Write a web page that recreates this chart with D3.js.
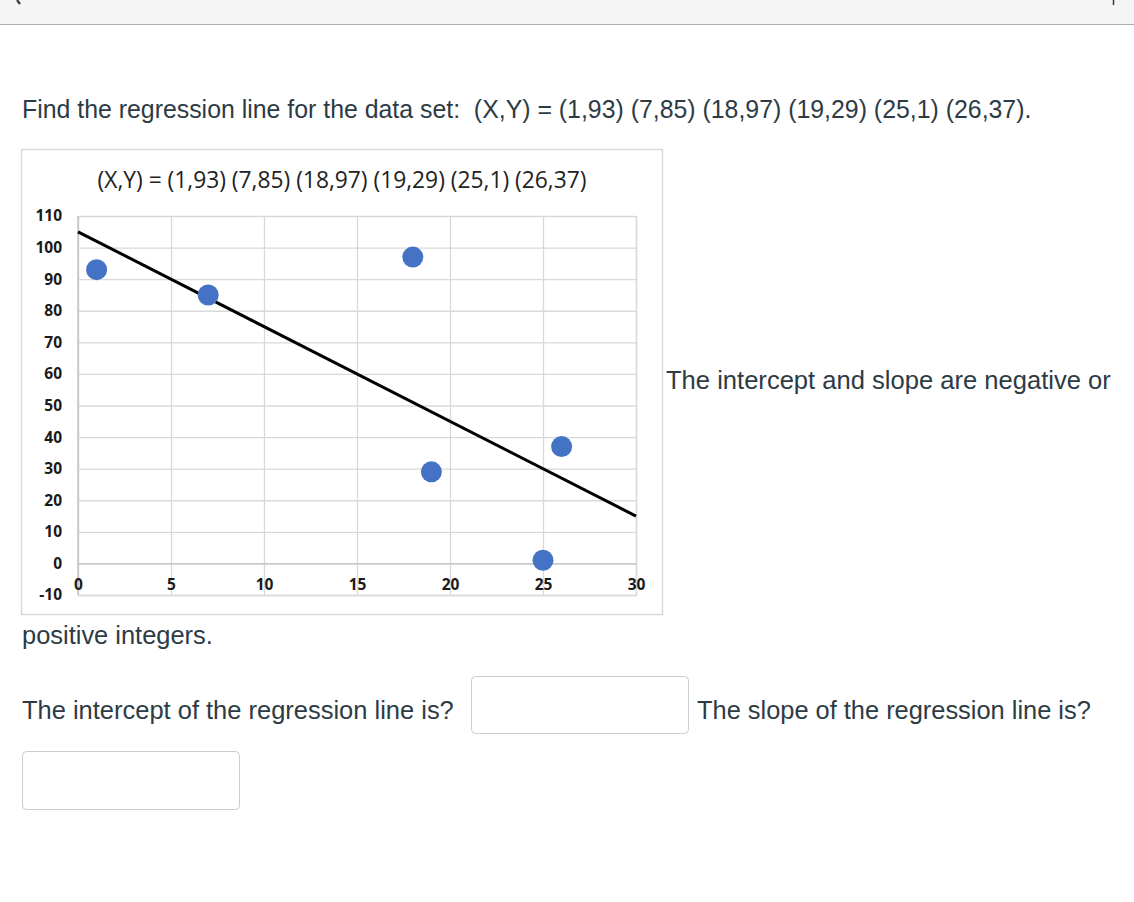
<!DOCTYPE html>
<html><head><meta charset="utf-8">
<script src="https://cdn.jsdelivr.net/npm/d3@7/dist/d3.min.js"></script>
<style>
html,body{margin:0;padding:0;background:#fff;}
svg{display:block;}
text{white-space:pre;}
</style></head>
<body>
<svg id="page" width="1134" height="902"></svg>
<script>
// ---- data ----
const xValues = [1, 7, 18, 19, 25, 26];
const yValues = [93, 85, 97, 29, 1, 37];
const trendX = [0, 30];
const trendY = [105, 15];
const xTicks = [0, 5, 10, 15, 20, 25, 30];
const yTicks = [-10, 0, 10, 20, 30, 40, 50, 60, 70, 80, 90, 100, 110];
const chartTitle = "(X,Y) = (1,93) (7,85) (18,97) (19,29) (25,1) (26,37)";
const pageLines = {
  q: "Find the regression line for the data set:  (X,Y) = (1,93) (7,85) (18,97) (19,29) (25,1) (26,37).",
  side: "The intercept and slope are negative or",
  wrap: "positive integers.",
  a1: "The intercept of the regression line is?",
  a2: "The slope of the regression line is?"
};

const svg = d3.select("#page");
const textColor = "#2d3b45";
const pageFont = "'Liberation Sans', Arial, Helvetica, sans-serif";

function fitText(sel, targetWidth) {
  const fs = parseFloat(sel.attr("font-size"));
  const w = sel.node().getComputedTextLength();
  sel.attr("font-size", (fs * targetWidth / w).toFixed(2));
}

// top bar
svg.append("rect").attr("x",0).attr("y",0).attr("width",1134).attr("height",24).attr("fill","#f5f5f5");
svg.append("line").attr("x1",0).attr("x2",1134).attr("y1",24.5).attr("y2",24.5).attr("stroke","#adadad").attr("stroke-width",1);
svg.append("path").attr("d","M17,0 L20,4").attr("stroke","#2d3b45").attr("stroke-width",2.2).attr("fill","none");
svg.append("line").attr("x1",1113.5).attr("x2",1113.5).attr("y1",0).attr("y2",5).attr("stroke","#2d3b45").attr("stroke-width",1.5);

// page text
function pageText(str, x, y, w) {
  const t = svg.append("text").attr("x",x).attr("y",y).attr("font-family",pageFont)
    .attr("font-size",22).attr("fill",textColor).text(str);
  fitText(t, w);
  return t;
}
pageText(pageLines.q, 22, 118, 1010);
pageText(pageLines.side, 666, 389, 445);
pageText(pageLines.wrap, 22, 644, 191);
pageText(pageLines.a1, 22, 719, 432);
pageText(pageLines.a2, 697, 719, 394);

// input boxes
[[471,676,217,57],[22,751,217,58]].forEach(b=>{
  svg.append("rect").attr("x",b[0]+0.5).attr("y",b[1]+0.5).attr("width",b[2]).attr("height",b[3])
    .attr("rx",4).attr("fill","#fff").attr("stroke","#c7cdd1").attr("stroke-width",1);
});

// ---- chart ----
const chartBox = {x:21, y:149, w:641, h:465};
svg.append("rect").attr("x",chartBox.x+0.5).attr("y",chartBox.y+0.5)
  .attr("width",chartBox.w).attr("height",chartBox.h)
  .attr("fill","#fff").attr("stroke","#d9d9d9").attr("stroke-width",1.5);

const chartFont = "'Open Sans', 'Noto Sans', sans-serif";
const title = svg.append("text").attr("x",342).attr("y",188).attr("text-anchor","middle")
  .attr("font-family",chartFont).attr("font-size",18).attr("fill","#222").text(chartTitle);
fitText(title, 489);

const x = d3.scaleLinear().domain([0,30]).range([78,636]);
const y = d3.scaleLinear().domain([-10,110]).range([595,216]);
const fmt = d => String(d);

const g = svg.append("g");

// horizontal gridlines via y axis
const yAxis = g.append("g").attr("transform",`translate(${x(0)},0)`)
  .call(d3.axisLeft(y).tickValues(yTicks).tickSize(-(x(30)-x(0))).tickPadding(16).tickFormat(fmt));
yAxis.select(".domain").remove();
yAxis.selectAll(".tick line").attr("stroke","#d9d9d9").attr("stroke-width",1.3);
yAxis.selectAll(".tick text").attr("font-family",chartFont).attr("font-weight",700)
  .attr("font-size",15.5).attr("fill","#1a1a1a");

// vertical gridlines via x axis
const xGrid = g.append("g").attr("transform",`translate(0,${y(-10)})`)
  .call(d3.axisBottom(x).tickValues(xTicks).tickSize(-(y(-10)-y(110))).tickFormat(""));
xGrid.select(".domain").attr("stroke","#d9d9d9").attr("stroke-width",1.3);
xGrid.selectAll(".tick line").attr("stroke","#d9d9d9").attr("stroke-width",1.3);

// left axis line
g.append("line").attr("x1",x(0)).attr("x2",x(0)).attr("y1",y(110)).attr("y2",y(-10))
  .attr("stroke","#bfbfbf").attr("stroke-width",1.3);

// x axis at zero with labels below
const xAxis = g.append("g").attr("transform",`translate(0,${y(0)})`)
  .call(d3.axisBottom(x).tickValues(xTicks).tickSize(0).tickPadding(16).tickFormat(fmt));
xAxis.select(".domain").attr("stroke","#bfbfbf").attr("stroke-width",1.3);
xAxis.selectAll(".tick text").attr("font-family",chartFont).attr("font-weight",700)
  .attr("font-size",15.5).attr("fill","#1a1a1a");

// trend line
g.append("line").attr("x1",x(trendX[0])).attr("y1",y(trendY[0]))
  .attr("x2",x(trendX[1])).attr("y2",y(trendY[1]))
  .attr("stroke","#000").attr("stroke-width",3);

// points
g.selectAll("circle.pt").data(xValues.map((v,i)=>[v,yValues[i]])).enter().append("circle")
  .attr("class","pt").attr("cx",d=>x(d[0])).attr("cy",d=>y(d[1])).attr("r",10.5)
  .attr("fill","#4472c4");
</script>
</body></html>
